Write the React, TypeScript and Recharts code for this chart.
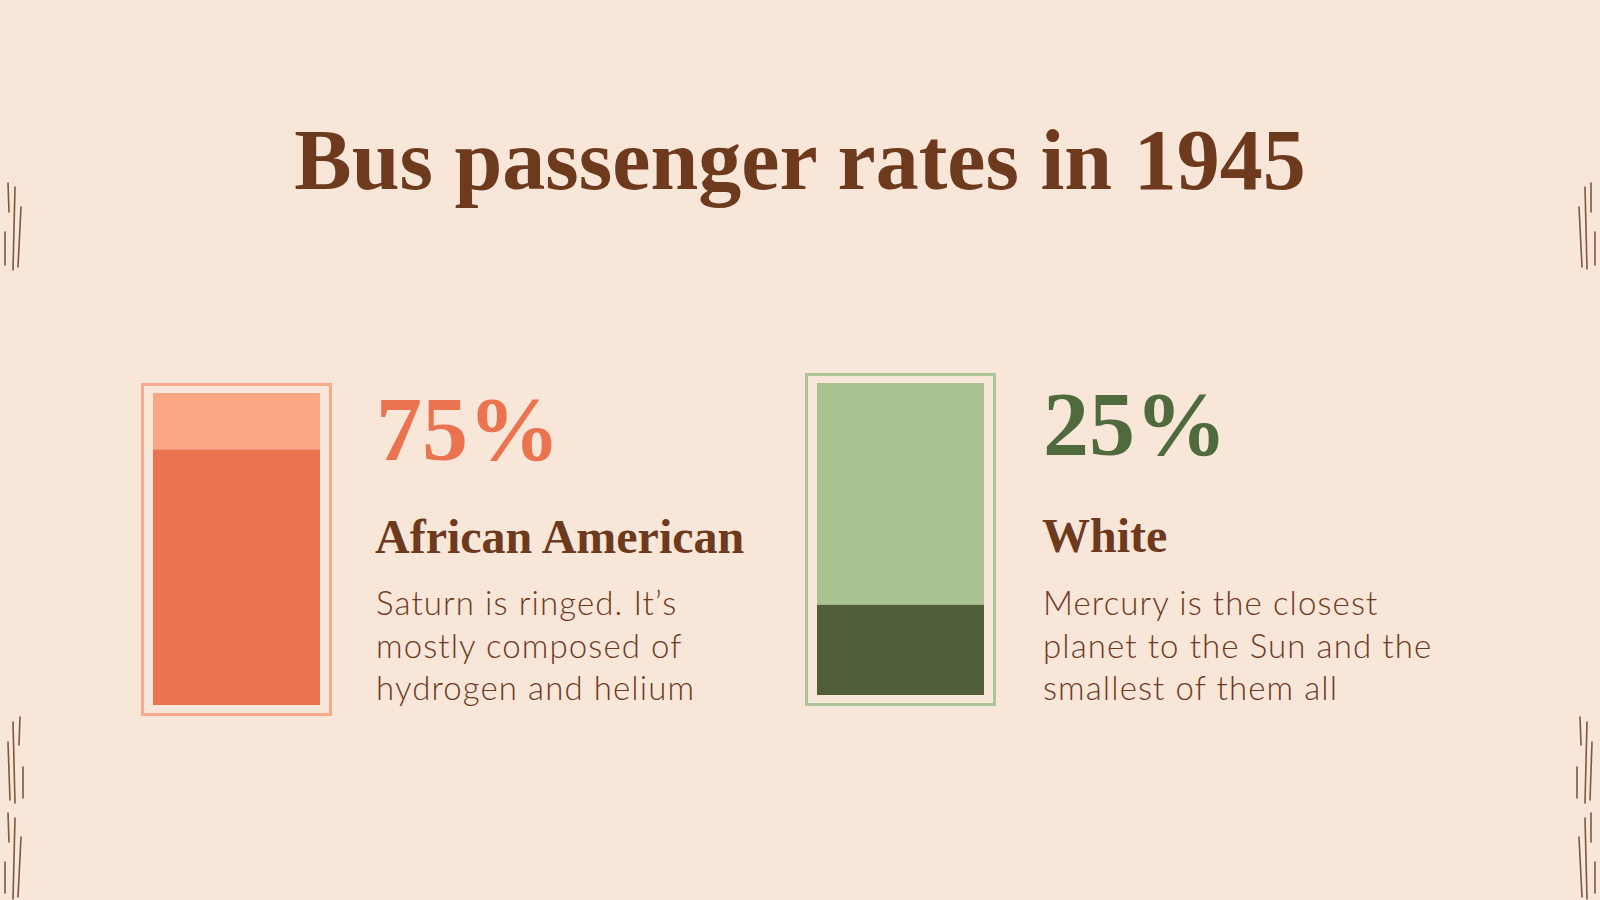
import { BarChart, Bar, XAxis, YAxis } from 'recharts';

const groups = ['African American', 'White'];
const percentLabels = ['75%', '25%'];
// share of each inner bar taken by the dark (bottom) and light (top) blocks
const filledShare = [82, 29];
const remainingShare = [18, 71];
const descriptions = [
    ['Saturn is ringed. It\u2019s', 'mostly composed of', 'hydrogen and helium'],
    ['Mercury is the closest', 'planet to the Sun and the', 'smallest of them all'],
];

const BG = '#f8e6d8';
const BROWN = '#6d3a1e';

const palettes = [
    { dark: '#ec734f', light: '#faa685', border: '#f7ab8c', label: '#ec734f' },
    { dark: '#505f3a', light: '#aac292', border: '#aec597', label: '#4f6a3c' },
];

// box placement (outer frame) and text column
const layout = [
    { boxX: 141, boxY: 383, textX: 376, pctY: 460, nameY: 553 },
    { boxX: 805, boxY: 373, textX: 1043, pctY: 455, nameY: 552 },
];

// hand-drawn strokes at the slide edges
const strokes: [number, number, number, number][] = [
    [8, 183, 9, 212], [15, 187, 13, 270], [21, 207, 18, 267], [5, 232, 5, 265],
    [20, 717, 19, 745], [13, 722, 15, 803], [8, 742, 10, 800], [23, 767, 23, 798],
    [8, 813, 9, 842], [15, 818, 13, 899], [21, 837, 18, 897], [5, 862, 5, 893],
    [1591, 183, 1591, 212], [1585, 187, 1587, 269], [1579, 207, 1582, 267], [1595, 232, 1595, 265],
    [1580, 717, 1581, 745], [1587, 722, 1585, 803], [1592, 742, 1590, 800], [1577, 767, 1577, 798],
    [1591, 813, 1591, 842], [1585, 818, 1587, 899], [1579, 837, 1582, 897], [1595, 862, 1595, 893],
];

function ShareBar({ index }: { index: number }) {
    const p = palettes[index];
    const pos = layout[index];
    const data = [{ name: groups[index], filled: filledShare[index], rest: remainingShare[index] }];
    return (
        <div
            style={{
                position: 'absolute',
                left: pos.boxX,
                top: pos.boxY,
                width: 191,
                height: 333,
                boxSizing: 'border-box',
                border: `3px solid ${p.border}`,
                padding: '7px 9px 8px 9px',
            }}
        >
            <BarChart width={167} height={312} data={data} margin={{ top: 0, right: 0, bottom: 0, left: 0 }} barCategoryGap={0}>
                <XAxis dataKey="name" hide />
                <YAxis hide domain={[0, 100]} />
                <Bar dataKey="filled" stackId="a" fill={p.dark} isAnimationActive={false} />
                <Bar dataKey="rest" stackId="a" fill={p.light} isAnimationActive={false} />
            </BarChart>
        </div>
    );
}

export default function App() {
    return (
        <div style={{ position: 'fixed', left: 0, top: 0, width: 1600, height: 900, background: BG, overflow: 'hidden' }}>
            <svg width={1600} height={900} style={{ position: 'absolute', left: 0, top: 0 }}>
                {strokes.map(([x1, y1, x2, y2], i) => (
                    <line key={i} x1={x1} y1={y1} x2={x2} y2={y2} stroke="#7b5840" strokeWidth={1.6} strokeLinecap="round" />
                ))}
                <text
                    x={800}
                    y={189}
                    textAnchor="middle"
                    fontFamily="'Liberation Serif', serif"
                    fontWeight={700}
                    fontSize={86}
                    fill={BROWN}
                >
                    Bus passenger rates in 1945
                </text>
                {groups.map((g, i) => (
                    <g key={g}>
                        <text
                            x={layout[i].textX}
                            y={layout[i].pctY}
                            fontFamily="'Liberation Serif', serif"
                            fontWeight={700}
                            fontSize={92}
                            fill={palettes[i].label}
                        >
                            {percentLabels[i]}
                        </text>
                        <text
                            x={layout[i].textX - 1}
                            y={layout[i].nameY}
                            fontFamily="'Liberation Serif', serif"
                            fontWeight={700}
                            fontSize={48}
                            fill={BROWN}
                        >
                            {g}
                        </text>
                        {descriptions[i].map((line, j) => (
                            <text
                                key={j}
                                x={layout[i].textX}
                                y={615 + j * 42.5}
                                fontFamily="Lato, sans-serif"
                                fontWeight={300}
                                fontSize={33}
                                letterSpacing={1.1}
                                fill={BROWN}
                            >
                                {line}
                            </text>
                        ))}
                    </g>
                ))}
            </svg>
            {groups.map((g, i) => (
                <ShareBar key={g} index={i} />
            ))}
        </div>
    );
}
